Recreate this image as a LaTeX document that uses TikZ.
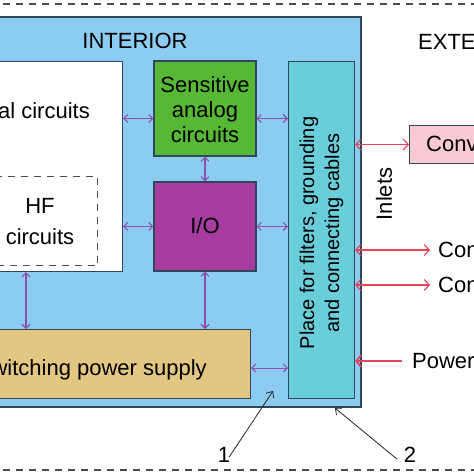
\documentclass[tikz,border=0pt]{standalone}
\usepackage{fontspec}
\setmainfont{Liberation Sans}
\usetikzlibrary{arrows.meta}
\definecolor{skyb}{RGB}{140,204,240}
\definecolor{grnb}{RGB}{86,184,52}
\definecolor{purb}{RGB}{166,60,160}
\definecolor{tanb}{RGB}{226,198,130}
\definecolor{cynb}{RGB}{106,205,218}
\definecolor{pnkb}{RGB}{248,202,212}
\definecolor{edgec}{RGB}{48,70,92}
\definecolor{arrp}{RGB}{142,78,174}
\definecolor{arrr}{RGB}{230,66,92}

\begin{document}
\begin{tikzpicture}[x=1pt,y=-1pt,
		box/.style={draw=edgec,line width=1.1pt,inner sep=0pt},
		txt/.style={font=\fontsize{22}{25}\selectfont,inner sep=0pt,align=center},
		parr/.style={draw=arrp,line width=1.1pt,{Straight Barb[length=4pt,width=8pt]}-{Straight Barb[length=4pt,width=8pt]}},
		rarr/.style={draw=arrr,line width=1.1pt,{Straight Barb[length=5pt,width=11pt]}-{Straight Barb[length=5pt,width=11pt]}},
		larr/.style={draw=black!85,line width=0.8pt,-{Straight Barb[length=5pt,width=9pt]}}]
	\useasboundingbox (0,0) rectangle (474,474);
	\clip (0,0) rectangle (474,474);
	\fill[white] (0,0) rectangle (474,474);
		
		\draw[black!70,line width=1.2pt,dash pattern=on 7pt off 6pt] (-10,4) -- (484,4);
		\draw[black!70,line width=1.2pt,dash pattern=on 7pt off 6pt] (-10,470) -- (484,470);
		
		\node[box,fill=skyb,line width=1.6pt,anchor=north west,minimum width=380pt,minimum height=390pt] (inter) at (-20,16) {};
		\node[txt] (intt) at (135,41) {INTERIOR};
		\node[txt,anchor=base west] (extt) at (418,49) {EXTE};
		
		\node[box,fill=white,anchor=north west,minimum width=142pt,minimum height=210pt] (dig) at (-20,61) {};
		\node[txt,anchor=base east] (digt) at (90,118) {al circuits};
		\node[draw=black!70,line width=1.1pt,dash pattern=on 7pt off 6pt,anchor=north west,minimum width=114pt,minimum height=89pt] (hf) at (-17,176) {};
		\node[txt] (hft) at (40,222) {HF\\[6pt]circuits};
		
		\node[box,fill=grnb,minimum width=102pt,minimum height=95pt] (sens) at (205,108.5) {};
		\node[txt] (senst) at (205,110) {Sensitive\\analog\\circuits};
		\node[box,fill=purb,minimum width=102pt,minimum height=89pt] (io) at (205,226.5) {};
		\node[txt] (iot) at (205,226) {I/O};
		
		\node[box,fill=tanb,anchor=north west,minimum width=270pt,minimum height=69pt] (psu) at (-20,329) {};
		\node[txt,anchor=base east] (psut) at (207,375) {witching power supply};
		
		\node[box,fill=cynb,anchor=north west,minimum width=66pt,minimum height=337pt] (cab) at (288,61) {};
		\node[txt,font=\fontsize{20}{25}\selectfont,rotate=90] (cabt) at (321.5,233) {Place for filters, grounding\\and connecting cables};
		\node[txt,rotate=90] (inl) at (384,194) {Inlets};
		
		\node[box,fill=pnkb,anchor=north west,minimum width=100pt,minimum height=38pt] (conv) at (409,125) {};
		\node[txt,anchor=west] (convt) at (426,144) {Conv};
		\node[txt,anchor=west] (con1) at (438,250) {Con};
		\node[txt,anchor=west] (con2) at (438,285) {Con};
		\node[txt,anchor=west] (pwr) at (412,361) {Power};
		
		\coordinate (lft) at (26,0);
		\draw[parr] ([yshift=-10pt]sens.west -| dig.east) -- ([yshift=-10pt]sens.west);
		\draw[parr] (io.west -| dig.east) -- (io.west);
		\draw[parr] (sens.south) -- (io.north);
		\draw[parr] ([yshift=-10pt]sens.east) -- ([yshift=-10pt]sens.east -| cab.west);
		\draw[parr] (io.east) -- (io.east -| cab.west);
		\draw[parr] (lft |- dig.south) -- (lft |- psu.north);
		\draw[parr] (io.south) -- (io.south |- psu.north);
		\draw[parr] ([yshift=-4pt]psu.east) -- ([yshift=-4pt]psu.east -| cab.west);
		
		\draw[rarr] (conv.west -| cab.east) -- (conv.west);
		\draw[rarr] (con1.west -| cab.east) -- ([xshift=-8pt]con1.west);
		\draw[rarr] (con2.west -| cab.east) -- ([xshift=-8pt]con2.west);
		\draw[draw=arrr,line width=1.8pt,-{Straight Barb[length=5pt,width=12pt]}] ([xshift=-10pt]pwr.west) -- (pwr.west -| cab.east);
		
		\node[txt] (n1) at (224,455) {1};
		\node[txt] (n2) at (410,455) {2};
		\coordinate (t1) at (273,391);
		\coordinate (t2) at (335,408);
		\draw[larr] ([shift={(5pt,-10pt)}]n1.north) -- (t1);
		\draw[larr] ([shift={(-13pt,-12pt)}]n2.north) -- (t2);
	
	\end{tikzpicture}
\end{document}
